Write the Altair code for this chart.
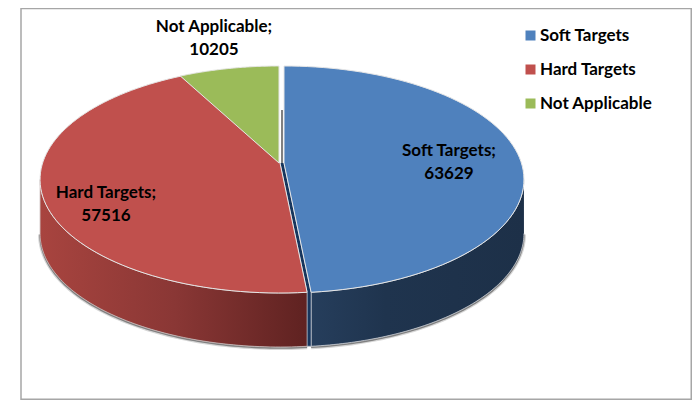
import math
import altair as alt
import pandas as pd

categories = ["Soft Targets", "Hard Targets", "Not Applicable"]
values = [63629, 57516, 10205]
colors = ["#4f81bd", "#c0504d", "#9bbb59"]
label_lines = [["Soft Targets;", "63629"], ["Hard Targets;", "57516"], ["Not Applicable;", "10205"]]
label_x = [449, 106, 214]
label_y = [151, 193, 27]

W, H = 684, 392
OX, OY = 8, 8          # page margin
FONT = "Lato"

# perspective view of the pie's top face
K, A, C = 237.4, 111.1, 0.1454
DEPTH = 54
centers = {"Soft Targets": (284, 163), "Hard Targets": (280, 163), "Not Applicable": (279, 163)}

def project(theta, cx, cy, depth=0.0):
    u, v = math.sin(theta), math.cos(theta)
    d = 1 + C * v
    return cx + K * u / d, cy - A * v / d + depth

total = sum(values)
spans = {}
acc = 0.0
for c, v in zip(categories, values):
    spans[c] = (acc / total * 2 * math.pi, (acc + v) / total * 2 * math.pi)
    acc += v

def arc(theta0, theta1, cx, cy, depth=0.0, n=80):
    return [project(theta0 + (theta1 - theta0) * i / n, cx, cy, depth) for i in range(n + 1)]

def rows(points, name):
    return [{"px": p[0] - OX, "py": p[1] - OY, "i": i, "slice": name} for i, p in enumerate(points)]

X = alt.X("px:Q", scale=alt.Scale(domain=[0, W], range=[0, W]), axis=None)
Y = alt.Y("py:Q", scale=alt.Scale(domain=[0, H], range=[0, H]), axis=None)
ORDER = alt.Order("i:Q")

def polygon(points, fill, stroke="#000", sw=0.0, so=1.0):
    d = pd.DataFrame(rows(points, "p"))
    return alt.Chart(d).mark_line(fill=fill, stroke=stroke, strokeWidth=sw, strokeOpacity=so, interpolate="linear").encode(x=X, y=Y, order=ORDER)

def grad(stops):
    return alt.Gradient(gradient="linear", x1=0, x2=1, y1=0, y2=0,
                        stops=[alt.GradientStop(color=c, offset=o) for o, c in stops])

# walls
b0, b1 = spans["Soft Targets"]
r0, r1 = spans["Hard Targets"]
bx, by = centers["Soft Targets"]
rx, ry = centers["Hard Targets"]
right_ext = math.pi / 2 + math.asin(C)
left_ext = 3 * math.pi / 2 - math.asin(C)

blue_wall = arc(right_ext, b1, bx, by) + arc(b1, right_ext, bx, by, DEPTH)
red_wall = arc(r0, left_ext, rx, ry) + arc(left_ext, r0, rx, ry, DEPTH)

shadow_red = pd.DataFrame(rows(arc(r0, left_ext, rx, ry, DEPTH + 1), "s"))
shadow_blue = pd.DataFrame(rows(arc(right_ext, b1, bx, by, DEPTH + 1), "s"))
shadows = [
    alt.Chart(d).mark_line(stroke=col, strokeWidth=w, strokeOpacity=o).encode(x=X, y=Y, order=ORDER)
    for d in (shadow_red, shadow_blue) for col, w, o in (("#bbbbbb", 4, 0.6), ("#808080", 1.6, 1))
]

layers = list(shadows)
layers.append(polygon(blue_wall, grad([(0, "#263e5c"), (0.35, "#1f344e"), (1, "#1d3048")]), "#c8ccd2", 0.8))
layers.append(polygon(red_wall, grad([(0, "#a8443f"), (0.5, "#8a3735"), (1, "#5f2221")]), "#c9bcbc", 0.8))

# dark inner cut face between the red and blue slices
sb = project(b1, bx, by)
sr = project(r0, rx, ry)
sliver = [(bx, by), sb, (sb[0], sb[1] + DEPTH), (sr[0], sr[1] + DEPTH), sr, (rx, ry)]
layers.append(polygon(sliver, "#17365d", "#b9bec6", 0.8))

# top faces
tops = []
for c in categories:
    cx, cy = centers[c]
    t0, t1 = spans[c]
    pts = [(cx, cy)] + arc(t0, t1, cx, cy) + [(cx, cy)]
    tops += rows(pts, c)
top_df = pd.DataFrame(tops)
layers.append(
    alt.Chart(top_df).mark_line(stroke="#e6e6e6", strokeWidth=1, interpolate="linear").encode(
        x=X, y=Y, order=ORDER,
        fill=alt.Fill("slice:N",
                      scale=alt.Scale(domain=categories, range=colors),
                      legend=alt.Legend(title=None, orient="none", legendX=522 - OX, legendY=19,
                                        symbolType="square", symbolSize=100, symbolStrokeWidth=0,
                                        rowPadding=16, labelFont=FONT, labelFontWeight="bold",
                                        labelFontSize=17, labelColor="#000000", labelOffset=1)),
    )
)

# grey seam inside the gap between the green and blue slices
layers.append(
    alt.Chart(pd.DataFrame(rows([(rx + 2, by - 53), (rx + 2, by)], "seam"))).mark_line(
        stroke="#808080", strokeWidth=2
    ).encode(x=X, y=Y, order=ORDER)
)

# data labels
lab = pd.DataFrame({"lines": label_lines, "px": [v - OX for v in label_x], "py": [v - OY for v in label_y]})
layers.append(
    alt.Chart(lab).mark_text(font=FONT, fontWeight="bold", fontSize=17, color="#000000",
                             lineHeight=23, baseline="middle", align="center").encode(x=X, y=Y, text="lines:N")
)

# outer frame
frame = pd.DataFrame([{"px": 21 - OX, "py": 0.5, "px2": W - 0.75, "py2": H - 0.75}])
layers.append(
    alt.Chart(frame).mark_rect(fill=None, stroke="#a6a6a6", strokeWidth=1.5).encode(x=X, y=Y, x2="px2:Q", y2="py2:Q")
)

chart = alt.layer(*layers).properties(
    width=W, height=H, padding=0, autosize=alt.AutoSizeParams(type="none"),
    background="#ffffff"
).configure_view(stroke=None)

chart.save("out.html", embed_options={"renderer": "svg", "actions": False})
